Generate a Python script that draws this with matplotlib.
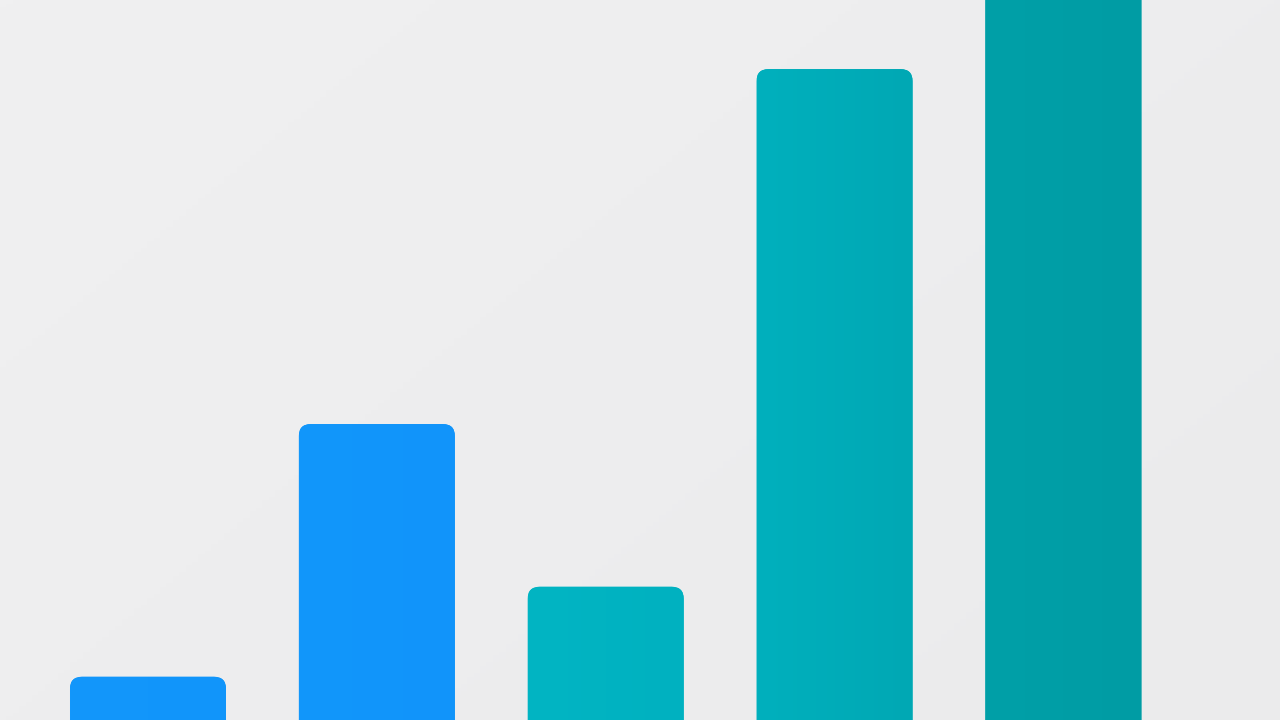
import numpy as np
import matplotlib
matplotlib.use('Agg')
import matplotlib.pyplot as plt
from matplotlib.patches import FancyBboxPatch
from matplotlib.colors import LinearSegmentedColormap

categories = ['A', 'B', 'C', 'D', 'E']
values = [6.0, 41.1, 18.5, 90.4, 106.0]

# left -> right shade of each bar
bar_shades = [
    ('#1397fb', '#1195fa'),
    ('#1297fb', '#1194fa'),
    ('#02b5c3', '#00b1c0'),
    ('#00b0bd', '#00a8b4'),
    ('#00a0a8', '#009ca4'),
]

XMIN, XMAX = -0.6467, 4.9465

fig = plt.figure(figsize=(12.8, 7.2), dpi=100)
ax = fig.add_axes([0, 0, 1, 1])
ax.set_xlim(XMIN, XMAX)
ax.set_ylim(0, 100)
ax.axis('off')

# soft background
bg = LinearSegmentedColormap.from_list('bg', ['#f0f0f1', '#ebebec'])
gx, gy = np.meshgrid(np.linspace(0, 1, 200), np.linspace(0, 1, 200))
ax.imshow(gx * 0.6 + gy * 0.4, cmap=bg, extent=[XMIN, XMAX, 0, 100],
          origin='upper', aspect='auto', zorder=0)

width = 0.6817
x_per_px = (XMAX - XMIN) / 1280
y_per_px = 100 / 720
radius = 12 * x_per_px
aspect = y_per_px / x_per_px

bars = ax.bar(range(len(categories)), values, width=width, bottom=0, alpha=0)
for b, (c0, c1) in zip(bars, bar_shades):
    x0 = b.get_x()
    top = b.get_height()
    patch = FancyBboxPatch((x0, -10), width, top + 10,
                           boxstyle=f'round,pad=0,rounding_size={radius}',
                           mutation_aspect=aspect, facecolor=c0,
                           edgecolor='none', zorder=2)
    ax.add_patch(patch)
    cmap = LinearSegmentedColormap.from_list('b', [c0, c1])
    grad = ax.imshow(np.linspace(0, 1, 64).reshape(1, -1), cmap=cmap,
                     extent=[x0, x0 + width, -10, top], aspect='auto', zorder=3)
    grad.set_clip_path(patch)

ax.set_xlim(XMIN, XMAX)
ax.set_ylim(0, 100)
fig.savefig('out.png', dpi=100)
